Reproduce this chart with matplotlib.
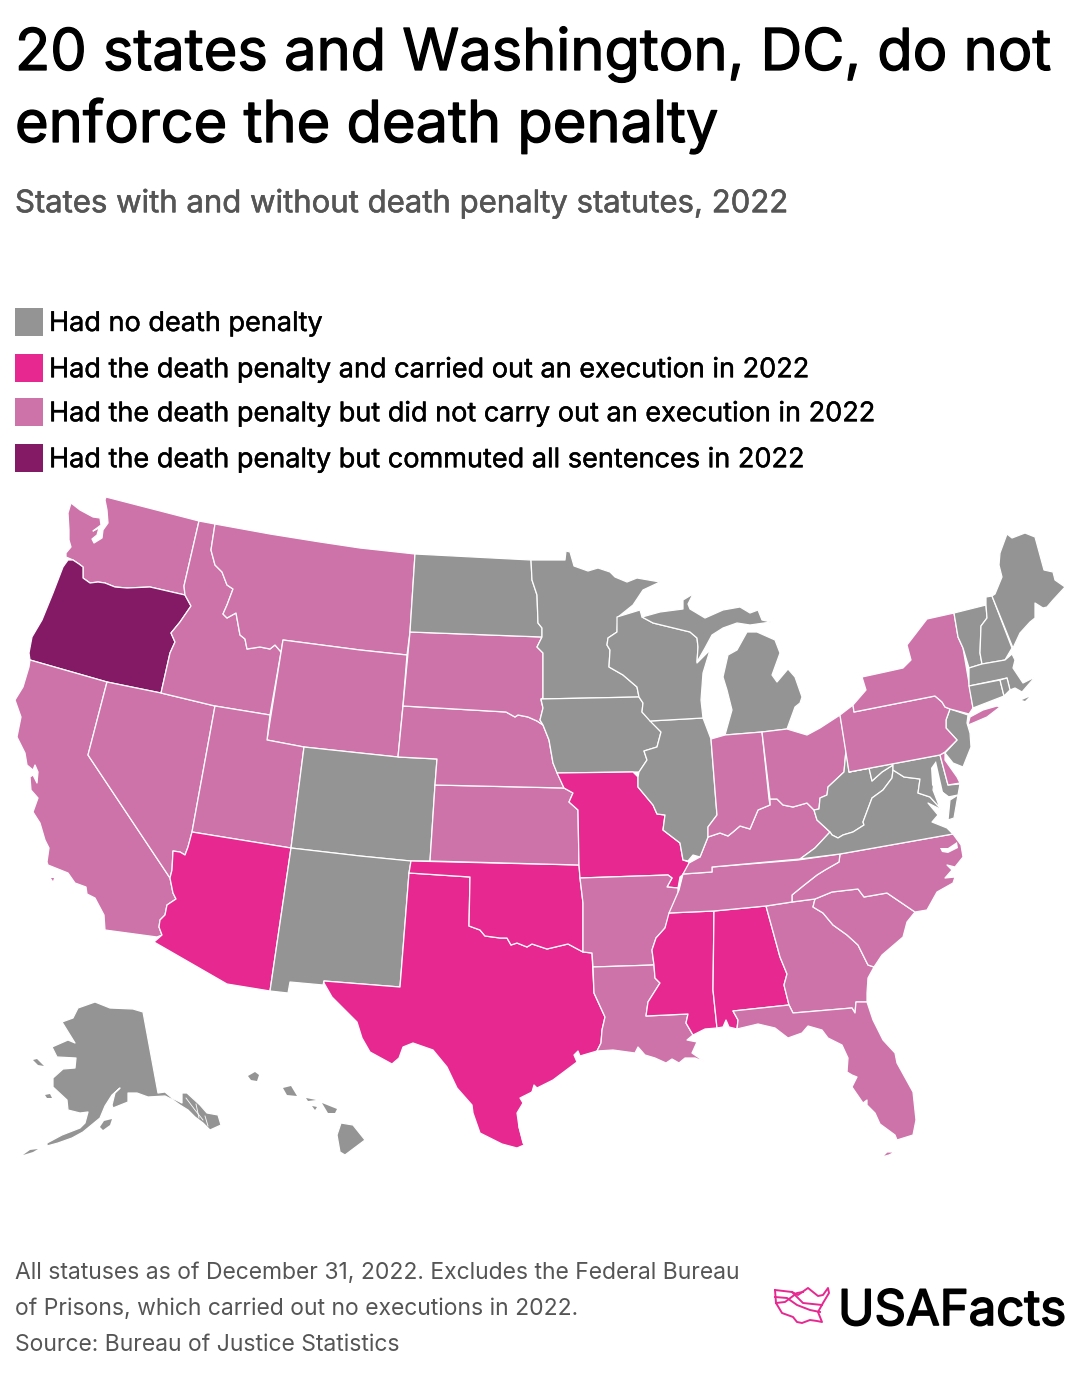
from matplotlib import pyplot as plt
from matplotlib import patheffects as pe
from matplotlib.patches import Polygon, Rectangle

# Colors
GRAY = "#949494"
HOT = "#E72890"
MID = "#CE73A9"
DARK = "#841A66"
LOGO = "#E72890"

# Legend
legend_labels = [
    "Had no death penalty",
    "Had the death penalty and carried out an execution in 2022",
    "Had the death penalty but did not carry out an execution in 2022",
    "Had the death penalty but commuted all sentences in 2022",
]
legend_colors = [GRAY, HOT, MID, DARK]
legend_y = [322, 368, 412, 458]

# Status of each state
no_penalty = ["Alaska", "Hawaii", "Colorado", "New Mexico", "North Dakota", "Minnesota", "Iowa", "Wisconsin",
              "Illinois", "Michigan", "Michigan UP", "West Virginia", "Virginia", "Maryland", "New Jersey",
              "Connecticut", "Rhode Island", "Massachusetts", "Vermont", "New Hampshire", "Maine", "VA Shore"]
executed = ["Arizona", "Texas", "Oklahoma", "Missouri", "Mississippi", "Alabama"]
no_execution = ["Washington", "California", "Nevada", "Idaho", "Montana", "Wyoming", "Utah", "South Dakota",
                "Nebraska", "Kansas", "Arkansas", "Louisiana", "Georgia", "Florida", "Florida Keys",
                "South Carolina", "North Carolina", "Tennessee", "Kentucky", "Indiana", "Ohio", "Pennsylvania",
                "New York", "Long Island", "Delaware"]
commuted = ["Oregon"]

# State outlines (x, y in image pixels)
states = {
    "Washington": [(106, 497), (199, 521), (184, 586), (185, 595), (150, 587), (127, 588), (115, 587), (105, 583),
                   (98, 582), (90, 583), (83, 578), (83, 567), (79, 564), (73, 560), (66, 557), (66, 553), (71, 547),
                   (69, 540), (69, 530), (68, 513), (71, 503), (80, 510), (93, 517), (100, 518), (101, 525), (93, 531),
                   (99, 528), (97, 535), (92, 539), (94, 543), (102, 538), (103, 530), (108, 523), (107, 510),
                   (105, 500)],
    "Oregon": [(68, 560), (73, 560), (79, 564), (83, 567), (83, 578), (90, 583), (98, 582), (105, 583), (115, 587),
               (127, 588), (150, 587), (185, 595), (191, 606), (180, 622), (171, 633), (175, 642), (170, 653),
               (161, 693), (107, 682), (30, 660), (29, 653), (32, 637), (42, 620), (53, 593), (63, 567)],
    "California": [(30, 660), (107, 682), (88, 755), (170, 878), (173, 893), (176, 899), (167, 905), (165, 915),
                   (160, 920), (159, 927), (162, 935), (157, 937), (105, 930), (104, 915), (95, 898), (87, 894),
                   (86, 887), (75, 883), (68, 873), (48, 865), (47, 862), (49, 848), (45, 840), (40, 823), (33, 812),
                   (38, 798), (31, 790), (30, 777), (33, 775), (37, 783), (38, 772), (35, 765), (33, 770), (27, 765),
                   (25, 753), (17, 737), (21, 717), (15, 700), (23, 687), (29, 667)],
    "Nevada": [(107, 682), (161, 693), (215, 706), (192, 832), (188, 847), (185, 855), (180, 852), (173, 851),
               (172, 870), (170, 878), (88, 755)],
    "Idaho": [(199, 521), (215, 524), (211, 550), (215, 565), (222, 572), (227, 585), (233, 589), (227, 605),
              (223, 614), (227, 618), (236, 613), (240, 635), (245, 639), (247, 649), (260, 647), (270, 649),
              (275, 645), (281, 652), (270, 715), (215, 706), (161, 693), (170, 653), (175, 642), (171, 633),
              (180, 622), (191, 606), (185, 595), (184, 586)],
    "Montana": [(215, 524), (270, 534), (320, 542), (360, 548), (415, 554), (410, 632), (407, 655), (360, 650),
                (283, 640), (281, 652), (275, 645), (270, 649), (260, 647), (247, 649), (245, 639), (240, 635),
                (236, 613), (227, 618), (223, 614), (227, 605), (233, 589), (227, 585), (222, 572), (215, 565),
                (211, 550)],
    "Wyoming": [(283, 640), (360, 650), (407, 655), (403, 705), (398, 757), (360, 753), (304, 747), (267, 740)],
    "Utah": [(215, 706), (270, 715), (267, 740), (304, 747), (291, 848), (192, 832)],
    "Arizona": [(192, 832), (291, 848), (270, 991), (227, 984), (154, 942), (162, 935), (159, 927), (160, 920),
                (165, 915), (167, 905), (176, 899), (173, 893), (170, 878), (172, 870), (173, 851), (180, 852),
                (185, 855), (188, 847)],
    "Colorado": [(304, 747), (360, 753), (398, 757), (437, 759), (435, 785), (430, 861), (410, 861), (360, 856),
                 (291, 848)],
    "New Mexico": [(291, 848), (360, 856), (411, 861), (409, 873), (400, 987), (324, 981), (323, 985), (290, 982),
                   (288, 993), (270, 991)],
    "Texas": [(409, 873), (470, 877), (469, 926), (480, 930), (485, 936), (500, 938), (507, 938), (511, 945),
              (517, 943), (527, 947), (532, 944), (547, 949), (568, 944), (583, 952), (592, 953), (594, 993),
              (605, 1017), (602, 1030), (601, 1043), (597, 1051), (580, 1056), (578, 1051), (574, 1055), (577, 1062),
              (553, 1080), (537, 1088), (534, 1085), (532, 1092), (520, 1098), (523, 1103), (517, 1113), (519, 1127),
              (524, 1145), (517, 1148), (502, 1144), (480, 1133), (473, 1113), (472, 1105), (457, 1088), (447, 1067),
              (433, 1050), (413, 1043), (403, 1047), (399, 1058), (392, 1064), (370, 1052), (362, 1038), (357, 1022),
              (345, 1010), (332, 997), (324, 983), (324, 981), (400, 987)],
    "Oklahoma": [(411, 861), (579, 865), (580, 878), (583, 903), (583, 952), (568, 944), (547, 949), (532, 944),
                 (527, 947), (517, 943), (511, 945), (507, 938), (500, 938), (485, 936), (480, 930), (469, 926),
                 (470, 877), (409, 873)],
    "Kansas": [(435, 785), (564, 788), (573, 793), (569, 802), (578, 810), (579, 865), (430, 861)],
    "Nebraska": [(403, 706), (506, 712), (515, 717), (518, 715), (528, 717), (537, 721), (543, 725), (549, 740),
                 (553, 763), (564, 788), (435, 785), (437, 759), (398, 757)],
    "South Dakota": [(410, 632), (542, 637), (537, 647), (543, 653), (543, 698), (541, 700), (543, 708), (540, 720),
                     (543, 725), (537, 721), (528, 717), (518, 715), (515, 717), (506, 712), (403, 706)],
    "North Dakota": [(415, 554), (531, 560), (532, 580), (537, 595), (538, 623), (542, 628), (542, 637), (410, 632)],
    "Minnesota": [(531, 560), (565, 560), (566, 551), (570, 552), (574, 566), (588, 571), (598, 568), (610, 572),
                  (615, 577), (627, 582), (637, 578), (660, 582), (643, 590), (633, 605), (618, 617), (617, 632),
                  (608, 638), (607, 645), (610, 650), (609, 667), (623, 675), (637, 687), (639, 697), (541, 699),
                  (543, 698), (543, 653), (537, 647), (542, 637), (542, 628), (538, 623), (537, 595), (532, 580)],
    "Iowa": [(541, 699), (639, 697), (643, 703), (642, 712), (650, 720), (661, 732), (657, 747), (644, 751),
             (647, 760), (639, 772), (633, 772), (557, 773), (553, 763), (549, 740), (543, 725), (540, 720),
             (543, 708)],
    "Missouri": [(557, 773), (633, 772), (638, 777), (638, 787), (653, 805), (657, 814), (665, 815), (663, 830),
                 (680, 843), (683, 860), (689, 862), (688, 870), (680, 877), (678, 888), (667, 887), (672, 878),
                 (668, 875), (580, 878), (579, 865), (578, 810), (569, 802), (573, 793), (564, 788)],
    "Arkansas": [(580, 878), (668, 875), (672, 878), (667, 887), (678, 888), (678, 895), (670, 913), (665, 928),
                 (656, 938), (652, 950), (654, 965), (593, 967), (592, 953), (583, 952), (583, 903)],
    "Louisiana": [(593, 967), (654, 965), (655, 978), (660, 983), (648, 1002), (646, 1016), (688, 1014), (686, 1023),
                  (693, 1035), (687, 1040), (697, 1042), (692, 1053), (705, 1062), (695, 1058), (685, 1058),
                  (679, 1063), (672, 1059), (666, 1063), (655, 1058), (645, 1055), (638, 1047), (635, 1053),
                  (613, 1050), (597, 1051), (601, 1043), (602, 1030), (605, 1017), (594, 993)],
    "Mississippi": [(669, 913), (714, 911), (713, 990), (717, 1028), (705, 1029), (693, 1035), (686, 1023),
                    (688, 1014), (646, 1016), (648, 1002), (660, 983), (655, 978), (654, 965), (652, 950), (656, 938),
                    (665, 928)],
    "Alabama": [(714, 911), (766, 906), (780, 957), (787, 974), (784, 985), (789, 1005), (733, 1011), (738, 1020),
                (737, 1029), (729, 1027), (726, 1020), (723, 1027), (717, 1028), (713, 990)],
    "Georgia": [(766, 906), (792, 902), (815, 899), (813, 907), (823, 913), (833, 925), (847, 935), (858, 945),
                (868, 965), (874, 967), (868, 978), (867, 993), (867, 1002), (856, 1002), (855, 1013), (852, 1008),
                (793, 1013), (789, 1005), (784, 985), (787, 974), (780, 957)],
    "Florida": [(733, 1011), (789, 1005), (793, 1013), (852, 1008), (855, 1013), (856, 1002), (867, 1002), (873, 1020),
                (883, 1040), (895, 1053), (897, 1063), (913, 1092), (916, 1120), (913, 1135), (897, 1140), (895, 1135),
                (880, 1124), (875, 1113), (867, 1105), (867, 1100), (863, 1103), (852, 1087), (857, 1077), (852, 1075),
                (847, 1072), (848, 1058), (842, 1045), (828, 1038), (822, 1030), (808, 1026), (802, 1033), (788, 1038),
                (775, 1028), (758, 1024), (737, 1029), (738, 1020)],
    "Florida Keys": [(882, 1157), (887, 1152), (895, 1152), (889, 1155)],
    "South Carolina": [(813, 907), (815, 899), (832, 892), (858, 889), (864, 897), (887, 893), (915, 912), (907, 922),
                       (903, 937), (882, 955), (874, 967), (868, 965), (858, 945), (847, 935), (833, 925), (823, 913)],
    "North Carolina": [(792, 902), (792, 895), (803, 886), (817, 875), (825, 870), (839, 862), (840, 854), (953, 834),
                       (961, 845), (963, 857), (955, 867), (947, 865), (952, 870), (945, 878), (955, 877), (953, 883),
                       (937, 892), (927, 910), (915, 912), (887, 893), (864, 897), (858, 889), (832, 892), (815, 899)],
    "Tennessee": [(669, 913), (679, 890), (683, 874), (712, 872), (712, 867), (798, 860), (840, 854), (839, 862),
                  (825, 870), (817, 875), (803, 886), (792, 895), (792, 902), (766, 906), (714, 911)],
    "Kentucky": [(683, 874), (689, 863), (700, 857), (708, 837), (720, 833), (728, 836), (733, 832), (740, 826),
                 (750, 829), (758, 810), (770, 805), (770, 799), (777, 799), (783, 805), (793, 807), (807, 803),
                 (814, 810), (817, 820), (830, 832), (815, 848), (800, 859), (712, 867), (712, 872)],
    "Illinois": [(650, 721), (703, 718), (711, 739), (716, 803), (717, 815), (708, 827), (708, 837), (700, 857),
                 (693, 855), (688, 861), (683, 860), (680, 843), (663, 830), (665, 815), (657, 814), (653, 805),
                 (638, 787), (638, 777), (639, 772), (647, 760), (644, 751), (657, 747), (661, 732)],
    "Wisconsin": [(617, 617), (640, 610), (642, 617), (653, 623), (690, 632), (697, 638), (698, 647), (697, 663),
                  (710, 650), (703, 673), (701, 700), (703, 718), (650, 721), (642, 712), (643, 703), (639, 697),
                  (637, 687), (623, 675), (609, 667), (610, 650), (607, 645), (608, 638), (617, 632)],
    "Michigan UP": [(642, 617), (660, 612), (683, 609), (683, 600), (693, 594), (688, 604), (690, 609), (705, 618),
                    (723, 610), (740, 607), (750, 613), (758, 610), (762, 620), (771, 622), (750, 625), (737, 623),
                    (723, 628), (712, 635), (705, 648), (697, 662), (698, 647), (697, 638), (690, 632), (653, 623)],
    "Michigan": [(725, 735), (732, 710), (727, 690), (723, 677), (728, 655), (737, 650), (747, 632), (757, 632),
                 (775, 640), (780, 653), (772, 675), (777, 682), (788, 669), (795, 677), (802, 697), (800, 703),
                 (795, 707), (787, 729), (762, 732)],
    "Indiana": [(711, 739), (725, 735), (762, 732), (769, 799), (770, 805), (758, 810), (750, 829), (740, 826),
                (733, 832), (728, 836), (720, 833), (708, 837), (708, 827), (717, 815), (716, 803)],
    "Ohio": [(762, 732), (787, 729), (807, 735), (820, 728), (840, 715), (846, 750), (844, 772), (828, 787),
             (827, 795), (820, 798), (819, 809), (814, 810), (807, 803), (793, 807), (783, 805), (777, 799),
             (770, 799)],
    "West Virginia": [(814, 810), (819, 809), (820, 798), (827, 795), (828, 787), (844, 772), (846, 750), (849, 772),
                      (869, 768), (872, 781), (882, 772), (893, 765), (893, 770), (892, 778), (883, 790), (872, 798),
                      (863, 822), (864, 825), (853, 832), (843, 835), (838, 838), (832, 835), (830, 832), (817, 820)],
    "Virginia": [(800, 859), (815, 848), (830, 832), (832, 835), (838, 838), (843, 835), (853, 832), (864, 825),
                 (863, 822), (872, 798), (883, 790), (892, 778), (893, 770), (904, 777), (920, 779), (918, 793),
                 (930, 797), (942, 810), (928, 803), (938, 815), (932, 822), (947, 828), (953, 834), (840, 854)],
    "VA Shore": [(948, 820), (950, 800), (958, 795), (954, 818)],
    "Maryland": [(849, 772), (940, 755), (948, 785), (960, 784), (958, 795), (948, 797), (940, 790), (935, 775),
                 (933, 790), (940, 808), (930, 797), (918, 793), (920, 779), (904, 777), (893, 770), (893, 765),
                 (882, 772), (872, 781), (869, 768)],
    "Delaware": [(940, 755), (945, 752), (945, 760), (957, 777), (960, 783), (948, 785)],
    "New Jersey": [(950, 709), (968, 715), (967, 723), (970, 733), (971, 747), (963, 767), (953, 763), (945, 753),
                   (957, 740), (946, 728), (946, 720)],
    "Pennsylvania": [(854, 712), (935, 696), (942, 702), (945, 707), (950, 709), (946, 720), (946, 728), (957, 740),
                     (945, 752), (940, 755), (849, 772), (840, 715), (853, 705)],
    "New York": [(853, 705), (866, 690), (862, 677), (885, 672), (903, 668), (911, 660), (907, 645), (927, 619),
                 (954, 613), (958, 637), (963, 648), (969, 683), (973, 708), (969, 714), (950, 709), (945, 707),
                 (942, 702), (935, 696), (854, 712)],
    "Long Island": [(968, 725), (970, 717), (983, 710), (997, 706), (1000, 707), (987, 717), (973, 723)],
    "Vermont": [(954, 613), (986, 605), (987, 618), (981, 626), (980, 653), (982, 664), (969, 668), (963, 648),
                (958, 637)],
    "New Hampshire": [(986, 605), (986, 597), (992, 596), (1012, 648), (1005, 660), (982, 664), (980, 653), (981, 626),
                      (987, 618)],
    "Maine": [(992, 596), (995, 594), (1002, 577), (999, 565), (1000, 553), (1007, 534), (1012, 538), (1025, 533),
              (1035, 537), (1044, 570), (1053, 572), (1055, 580), (1065, 587), (1053, 600), (1047, 607), (1043, 608),
              (1035, 603), (1035, 618), (1030, 622), (1020, 633), (1013, 648)],
    "Massachusetts": [(969, 668), (982, 664), (1005, 660), (1012, 654), (1015, 660), (1013, 668), (1023, 683),
                      (1035, 677), (1022, 692), (1015, 688), (1010, 690), (1007, 678), (969, 686)],
    "Connecticut": [(969, 686), (1000, 680), (1004, 696), (973, 708)],
    "Rhode Island": [(1000, 680), (1007, 678), (1010, 690), (1004, 696)],
    "Alaska": [(143, 1012), (158, 1093), (165, 1092), (172, 1098), (182, 1103), (182, 1093), (187, 1093), (200, 1105),
               (207, 1113), (218, 1115), (221, 1125), (210, 1130), (203, 1123), (195, 1117), (188, 1110), (180, 1105),
               (173, 1100), (165, 1096), (148, 1097), (137, 1093), (128, 1093), (128, 1102), (113, 1108), (112, 1105),
               (115, 1093), (120, 1088), (112, 1095), (105, 1106), (100, 1118), (83, 1132), (72, 1138), (58, 1143),
               (47, 1146), (47, 1143), (62, 1135), (80, 1128), (85, 1123), (88, 1112), (80, 1113), (68, 1110),
               (67, 1100), (53, 1087), (53, 1078), (63, 1069), (75, 1068), (76, 1058), (57, 1057), (52, 1047),
               (68, 1040), (75, 1043), (62, 1022), (73, 1018), (78, 1008), (95, 1002), (110, 1008), (133, 1009)],
    "Hawaii": [(337, 1135), (341, 1123), (353, 1125), (365, 1140), (345, 1155), (340, 1152)],
}

# Small islands, same status as the state they belong to
islands = {
    "Alaska": [[(23, 1155), (30, 1150), (38, 1149), (33, 1152)],
               [(100, 1127), (104, 1121), (112, 1119), (110, 1125), (103, 1130)],
               [(33, 1060), (37, 1059), (44, 1066), (38, 1065)], [(45, 1095), (50, 1094), (52, 1098), (47, 1098)]],
    "Hawaii": [[(322, 1103), (337, 1109), (335, 1113), (328, 1113)], [(306, 1098), (316, 1100), (308, 1101)],
               [(312, 1106), (317, 1107), (315, 1110)], [(283, 1088), (291, 1086), (297, 1096), (287, 1095)],
               [(248, 1076), (255, 1072), (259, 1075), (257, 1081), (251, 1080)]],
    "California": [[(51, 878), (54, 878), (53, 881)]],
    "Massachusetts": [[(1022, 700), (1029, 697), (1025, 701)]],
}

# Water cut out of the land
bays = [
    [(936, 761), (931, 768), (932, 785), (938, 795), (942, 808), (947, 822), (950, 797), (943, 792)],
    [(940, 848), (948, 848), (957, 842), (958, 848), (948, 853), (942, 852)],
    [(97, 505), (104, 504), (103, 508), (98, 508)],
]
texas_barrier = [(532, 1092), (524, 1100), (520, 1113), (519, 1127), (523, 1143)]
alaska_channels = [[(186, 1098), (195, 1110), (203, 1120)], [(196, 1104), (199, 1118)], [(205, 1116), (208, 1126)]]

title_lines = ["20 states and Washington, DC, do not", "enforce the death penalty"]
subtitle = "States with and without death penalty statutes, 2022"
footnote = [
    "All statuses as of December 31, 2022. Excludes the Federal Bureau",
    "of Prisons, which carried out no executions in 2022.",
    "Source: Bureau of Justice Statistics",
]

# Logo mark
logo_outline = [(775, 1290), (792, 1292), (798, 1295), (808, 1288), (818, 1296), (823, 1295), (828, 1288), (829, 1293),
                (823, 1303), (818, 1312), (822, 1322), (817, 1321), (810, 1320), (802, 1323), (797, 1322), (793, 1317),
                (782, 1313), (776, 1303), (775, 1290)]
logo_lines = [[(775, 1297), (787, 1298), (797, 1305), (810, 1310), (820, 1312)],
              [(776, 1303), (785, 1302), (797, 1293), (803, 1292)],
              [(792, 1292), (803, 1303), (822, 1305)]]

plt.rcParams['font.family'] = ['Inter', 'DejaVu Sans']

fig = plt.figure(figsize=(10.8, 13.78), dpi=100)
ax = fig.add_axes([0, 0, 1, 1])
ax.set_xlim(0, 1080)
ax.set_ylim(1378, 0)
ax.axis('off')

status_colors = {}
for names, color in [(no_penalty, GRAY), (executed, HOT), (no_execution, MID), (commuted, DARK)]:
    for name in names:
        status_colors[name] = color

for name, outline in states.items():
    ax.add_patch(Polygon(outline, closed=True, facecolor=status_colors[name], edgecolor='white', linewidth=0.9,
                         joinstyle='round'))
for name, parts in islands.items():
    for part in parts:
        ax.add_patch(Polygon(part, closed=True, facecolor=status_colors[name], edgecolor='none'))
for bay in bays:
    ax.add_patch(Polygon(bay, closed=True, facecolor='white', edgecolor='none'))
ax.plot(*zip(*texas_barrier), color='white', linewidth=0.9)
for channel in alaska_channels:
    ax.plot(*zip(*channel), color='white', linewidth=0.6)


def bolder(width, color):
    return [pe.withStroke(linewidth=width, foreground=color)]


# Title and subtitle
ax.text(15, 54, title_lines[0], fontsize=41.6, color='black', va='center', path_effects=bolder(0.9, 'black'))
ax.text(15, 126, title_lines[1], fontsize=41.6, color='black', va='center', path_effects=bolder(0.9, 'black'))
ax.text(15, 204, subtitle, fontsize=22.4, color='#555555', va='center', path_effects=bolder(0.4, '#555555'))

# Legend
for label, color, y in zip(legend_labels, legend_colors, legend_y):
    ax.add_patch(Rectangle((15, y - 14), 28, 28, facecolor=color, edgecolor='none'))
    ax.text(49, y + 2, label, fontsize=19.5, color='black', va='center', path_effects=bolder(0.3, 'black'))

# Footer
for line, y in zip(footnote, [1273, 1309, 1345]):
    ax.text(15, y, line, fontsize=16.5, color='#555555', va='center')

ax.plot(*zip(*logo_outline), color=LOGO, linewidth=1.4, solid_joinstyle='round')
for line in logo_lines:
    ax.plot(*zip(*line), color=LOGO, linewidth=1.4, solid_joinstyle='round')
ax.text(838, 1312, "USAFacts", fontsize=35.3, color='black', va='center', path_effects=bolder(1.2, 'black'))

fig.savefig('out.png', dpi=100)
